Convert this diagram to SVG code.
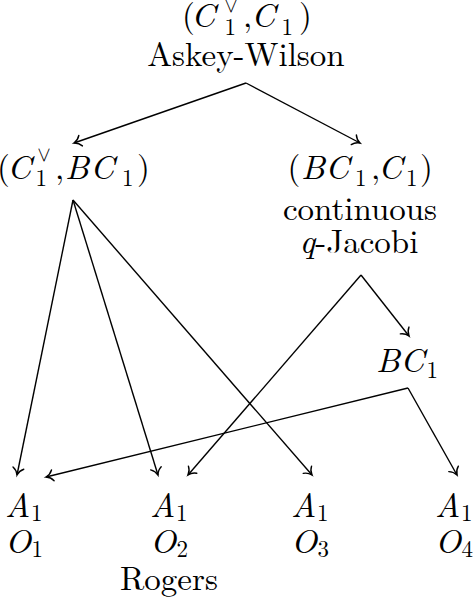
<svg xmlns="http://www.w3.org/2000/svg" width="474" height="598" viewBox="0 0 474 598">
<style>
text{font-size:33px;fill:#000}
.i{font-style:italic;font-size:34px}
.s{font-size:23px}
.v{font-size:21px;font-weight:200}
.e{fill:none;stroke:#000;stroke-width:1.4;marker-end:url(#ah)}
</style>
<defs>
<marker id="ah" markerUnits="userSpaceOnUse" markerWidth="20" markerHeight="20" viewBox="-10 -10 20 20" refX="0" refY="0" orient="auto">
<path d="M-7,-5.5 C-5,-2 -2,-0.6 0,0 C-2,0.6 -5,2 -7,5.5" fill="none" stroke="#000" stroke-width="1.4" stroke-linecap="round"/>
</marker>
</defs>
<rect width="474" height="598" fill="#fff"/>
<g id="connectors">
<line class="e" x1="246" y1="83" x2="74" y2="143"/>
<line class="e" x1="246" y1="83" x2="360" y2="143"/>
<line class="e" x1="73" y1="200" x2="17" y2="475"/>
<line class="e" x1="73" y1="200" x2="158" y2="475"/>
<line class="e" x1="73" y1="200" x2="312" y2="475"/>
<line class="e" x1="361" y1="275" x2="409" y2="336"/>
<line class="e" x1="361" y1="275" x2="188" y2="475"/>
<line class="e" x1="408" y1="388" x2="46" y2="477"/>
<line class="e" x1="408" y1="388" x2="457" y2="475"/>
</g>
<g font-family="Latin Modern Roman, serif">
<g id="askey-wilson">
<text x="182" y="27">(</text>
<text class="i" x="191" y="27">C</text>
<text class="v" x="224" y="12" font-family="Latin Modern Math, DejaVu Sans, sans-serif">∨</text>
<text class="s" x="224.5" y="35">1</text>
<text x="243" y="27">,</text>
<text class="i" x="251" y="27">C</text>
<text class="s" x="281.5" y="35">1</text>
<text x="299" y="27">)</text>
<text x="246" y="66" text-anchor="middle">Askey-Wilson</text>
</g>
<g id="c1v-bc1">
<text x="-3" y="179">(</text>
<text class="i" x="7" y="179">C</text>
<text class="v" x="37" y="161" font-family="Latin Modern Math, DejaVu Sans, sans-serif">∨</text>
<text class="s" x="35.5" y="186">1</text>
<text x="55" y="179">,</text>
<text class="i" x="65" y="179">B</text>
<text class="i" x="90" y="179">C</text>
<text class="s" x="122" y="186">1</text>
<text x="137" y="179">)</text>
</g>
<g id="bc1-c1">
<text x="287.5" y="179">(</text>
<text class="i" x="301" y="179">B</text>
<text class="i" x="325" y="179">C</text>
<text class="s" x="355" y="186">1</text>
<text x="371" y="179">,</text>
<text class="i" x="378" y="179">C</text>
<text class="s" x="406" y="186">1</text>
<text x="420" y="179">)</text>
<text x="360" y="220" text-anchor="middle">continuous</text>
<text x="359" y="253" text-anchor="middle"><tspan class="i">q</tspan>-Jacobi</text>
</g>
<g id="bc1">
<text class="i" x="376" y="372">B</text>
<text class="i" x="400" y="372">C</text>
<text class="s" x="426.5" y="378">1</text>
</g>
<g id="o1">
<text class="i" x="5" y="517">A</text>
<text class="s" x="31" y="521">1</text>
<text class="i" x="5" y="553">O</text>
<text class="s" x="31.5" y="557">1</text>
</g>
<g id="o2">
<text class="i" x="150" y="517">A</text>
<text class="s" x="176" y="521">1</text>
<text class="i" x="150" y="553">O</text>
<text class="s" x="176.5" y="557">2</text>
<text x="169" y="590" text-anchor="middle">Rogers</text>
</g>
<g id="o3">
<text class="i" x="291" y="517">A</text>
<text class="s" x="317" y="521">1</text>
<text class="i" x="291" y="553">O</text>
<text class="s" x="317.5" y="557">3</text>
</g>
<g id="o4">
<text class="i" x="435" y="517">A</text>
<text class="s" x="461" y="521">1</text>
<text class="i" x="435" y="553">O</text>
<text class="s" x="461.5" y="557">4</text>
</g>
</g>
</svg>
